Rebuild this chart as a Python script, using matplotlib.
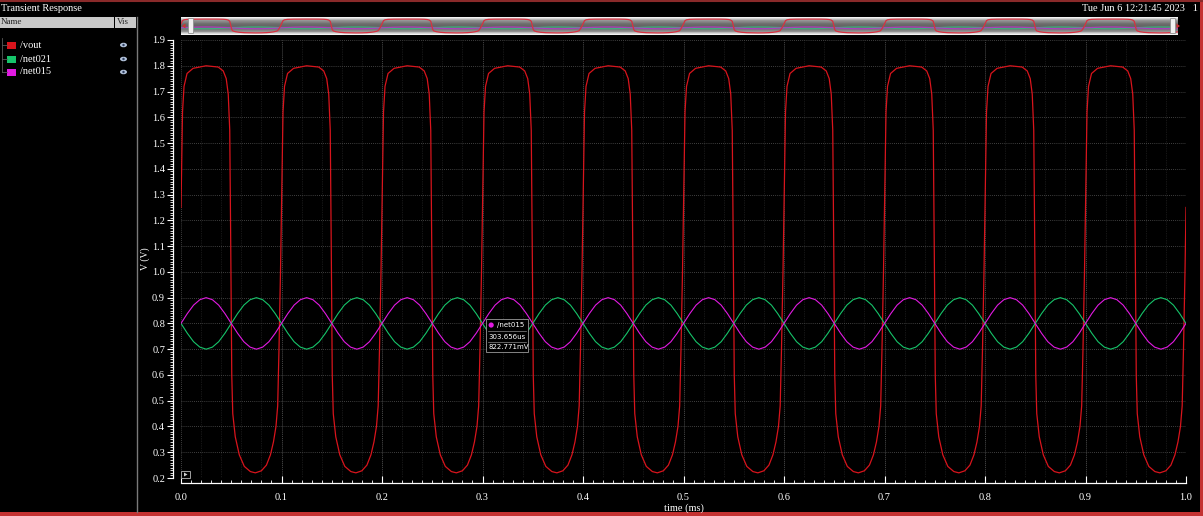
import matplotlib
matplotlib.use('Agg')
import matplotlib.pyplot as plt
import numpy as np
from matplotlib.patches import Rectangle, Ellipse, FancyBboxPatch, Polygon, Circle
from matplotlib.ticker import MultipleLocator, FormatStrFormatter

plt.rcParams['font.family'] = ['Liberation Serif', 'DejaVu Serif']

cycle_starts = [0.0, 0.1, 0.2, 0.3, 0.4, 0.5, 0.6, 0.7, 0.8, 0.9]   # ms

# /vout : one period, offsets in ms from the start of each period
vout_dt = [0.000, 0.0015, 0.003, 0.006, 0.012, 0.025, 0.037, 0.042, 0.045, 0.047,
           0.0485, 0.0495, 0.0505, 0.0515, 0.054, 0.058, 0.063, 0.069, 0.074, 0.080,
           0.085, 0.089, 0.092, 0.0945, 0.0962, 0.0975, 0.099]
vout_v = [1.25, 1.62, 1.72, 1.77, 1.79, 1.80, 1.795, 1.78, 1.75, 1.69,
          1.55, 1.10, 0.60, 0.45, 0.36, 0.29, 0.245, 0.225, 0.22, 0.228,
          0.25, 0.29, 0.34, 0.40, 0.48, 0.70, 1.00]
vout_end = 1.25

# /net015 and /net021 : one period sampled every 6.25 us
sine_dt = [0.0, 0.00625, 0.0125, 0.01875, 0.025, 0.03125, 0.0375, 0.04375,
           0.05, 0.05625, 0.0625, 0.06875, 0.075, 0.08125, 0.0875, 0.09375]
net015_v = [0.800, 0.838, 0.871, 0.892, 0.900, 0.892, 0.871, 0.838,
            0.800, 0.762, 0.729, 0.708, 0.700, 0.708, 0.729, 0.762]
net021_v = [0.800, 0.762, 0.729, 0.708, 0.700, 0.708, 0.729, 0.762,
            0.800, 0.838, 0.871, 0.892, 0.900, 0.892, 0.871, 0.838]
sine_end = 0.800

marker_t = 0.303656   # ms
marker_v = 0.822771   # V

names = ['/vout', '/net021', '/net015']
colors = ['#d8141c', '#16c46a', '#e21ae2']

# build the full traces
t_vout = np.concatenate([s + np.array(vout_dt) for s in cycle_starts] + [[1.0]])
y_vout = np.concatenate([np.tile(vout_v, len(cycle_starts)), [vout_end]])
t_sin = np.concatenate([s + np.array(sine_dt) for s in cycle_starts] + [[1.0]])
y_015 = np.concatenate([np.tile(net015_v, len(cycle_starts)), [sine_end]])
y_021 = np.concatenate([np.tile(net021_v, len(cycle_starts)), [sine_end]])

W, H = 1203, 516
fig = plt.figure(figsize=(W / 100, H / 100), dpi=100, facecolor='black')


def px_rect(x0, y0, x1, y1):
    return [x0 / W, 1 - y1 / H, (x1 - x0) / W, (y1 - y0) / H]


# main plot
ax = fig.add_axes(px_rect(181, 40, 1186, 478))
ax.set_facecolor('black')
ax.plot(t_vout, y_vout, color=colors[0], lw=0.9, zorder=3)
ax.plot(t_sin, y_021, color=colors[1], lw=0.8, zorder=4)
ax.plot(t_sin, y_015, color=colors[2], lw=0.8, zorder=5)
ax.set_xlim(0, 1.0)
ax.set_ylim(0.2, 1.9)

ax.xaxis.set_major_locator(MultipleLocator(0.1))
ax.xaxis.set_minor_locator(MultipleLocator(0.01))
ax.yaxis.set_major_locator(MultipleLocator(0.1))
ax.yaxis.set_minor_locator(MultipleLocator(0.01))
ax.xaxis.set_major_formatter(FormatStrFormatter('%.1f'))
ax.yaxis.set_major_formatter(FormatStrFormatter('%.1f'))

for s in ['top', 'right']:
    ax.spines[s].set_visible(False)
ax.spines['left'].set_position(('outward', 6))
ax.spines['bottom'].set_position(('outward', 3.6))
for s in ['left', 'bottom']:
    ax.spines[s].set_color('white')
    ax.spines[s].set_linewidth(0.9)

ax.tick_params(axis='y', which='major', direction='out', length=4, width=0.8,
               colors='white', labelsize=7.5, pad=1.5)
ax.tick_params(axis='y', which='minor', direction='out', length=2, width=0.6, colors='white')
ax.tick_params(axis='x', which='major', direction='in', length=5, width=0.8,
               colors='white', labelsize=7.5, pad=7)
ax.tick_params(axis='x', which='minor', direction='in', length=2.2, width=0.6, colors='white')

ax.grid(which='major', color='#555555', linestyle=(0, (1, 1.5)), linewidth=0.6, zorder=0)
for xg in np.arange(0.02, 1.0, 0.02):
    ax.axvline(xg, color='#2c2c2c', linestyle=(0, (1, 1.5)), linewidth=0.5, zorder=0)

# scroll bar with overview of the traces
sb = fig.add_axes(px_rect(181, 17, 1178, 35))
sb.set_xlim(0, (1178 - 181) / 1005)
sb.set_ylim(-0.02, 2.04)
grad = np.array([0.95, 0.72, 0.58, 0.50, 0.44, 0.40, 0.40, 0.43, 0.48, 0.56, 0.75, 0.95])[:, None]
sb.imshow(grad, cmap='gray', vmin=0, vmax=1, aspect='auto',
          extent=[0, (1178 - 181) / 1005, -0.02, 2.04], zorder=0)
sb.plot(t_sin, y_021, color='#30c080', lw=0.9, alpha=0.8, zorder=1)
sb.plot(t_sin, y_015, color='#c030d0', lw=0.9, alpha=0.8, zorder=1)
sb.plot(t_vout, y_vout, color='#d83040', lw=0.9, zorder=2)
sb.axis('off')

# overlay in pixel coordinates for the window chrome
ov = fig.add_axes([0, 0, 1, 1], zorder=10)
ov.set_xlim(0, W)
ov.set_ylim(H, 0)
ov.patch.set_alpha(0)
ov.axis('off')

ov.plot([0, W], [0.6, 0.6], color='#8a2a2a', lw=1.5)
ov.add_patch(Rectangle((0, 512), W, 4, color='#c43232', lw=0))
ov.add_patch(Rectangle((1200, 0), 3, H, color='#c43232', lw=0))
ov.text(1, 8.5, 'Transient Response', color='white', fontsize=7.5, va='center', ha='left')
ov.text(1198, 8.5, 'Tue Jun 6 12:21:45 2023   1', color='white', fontsize=7.5,
        va='center', ha='right')

# signal list panel
ov.add_patch(Rectangle((0, 17), 114, 11, color='#c9c9c9', lw=0))
ov.add_patch(Rectangle((115, 17), 21, 11, color='#c9c9c9', lw=0))
ov.text(0.5, 22.5, 'Name', color='#202020', fontsize=6.5, va='center')
ov.text(117, 22.5, 'Vis', color='#202020', fontsize=6.5, va='center')
ov.plot([136.5, 136.5], [17, 512], color='#7a7a7a', lw=1)
ov.plot([2, 2], [38, 72], color='#5a5a5a', lw=0.6)
rows = [45, 59, 72]
for y, name, c in zip(rows, names, colors):
    ov.plot([2, 7], [y, y], color='#5a5a5a', lw=0.6)
    ov.add_patch(Rectangle((7, y - 3.5), 9, 7, color=c, lw=0))
    ov.text(20, y, name, color='white', fontsize=7.5, va='center')
    ov.add_patch(Ellipse((123.5, y), 7, 4.5, color='#b4c4dc', lw=0))
    ov.add_patch(Circle((123.5, y), 1.2, color='#304060', lw=0))

# scroll bar handles
ov.add_patch(FancyBboxPatch((189, 19), 4, 14, boxstyle='round,pad=0.5',
                            fc='#f0f0f0', ec='#909090', lw=0.6))
ov.add_patch(FancyBboxPatch((1171, 19), 4, 14, boxstyle='round,pad=0.5',
                            fc='#f0f0f0', ec='#909090', lw=0.6))
ov.add_patch(Polygon([[182, 26], [185.5, 23.5], [185.5, 28.5]], color='#d03030', lw=0))
ov.add_patch(Polygon([[1180, 26], [1176.5, 23.5], [1176.5, 28.5]], color='#d03030', lw=0))

# axis titles
ov.text(683.5, 508, 'time (ms)', color='white', fontsize=7.5, ha='center', va='center')
ov.text(145, 259, 'V (V)', color='white', fontsize=7, ha='center', va='center', rotation=90)

# small play icon bottom left of plot
ov.add_patch(Rectangle((181, 471), 9, 7, fc='black', ec='#a0a0a0', lw=0.7))
ov.add_patch(Polygon([[184, 472.5], [184, 476.5], [187.5, 474.5]], color='#d0d0d0', lw=0))

# marker readout
fig.canvas.draw()
mx, my = ax.transData.transform((marker_t, marker_v))
my = H - my
ov.add_patch(Rectangle((mx, my + 1), 42, 33, fc='black', ec='#9a9a9a', lw=0.6))
ov.add_patch(Circle((mx + 5, my + 7.5), 2.6, color=colors[2], lw=0))
ov.text(mx + 11, my + 7.5, '/net015', color='white', fontsize=5, va='center',
        family=['DejaVu Sans'])
ov.plot([mx + 2, mx + 40], [my + 13.5, my + 13.5], color='#8a8a8a', lw=0.5)
ov.text(mx + 2.5, my + 19, '303.656us', color='white', fontsize=5, va='center',
        family=['DejaVu Sans'])
ov.plot([mx + 2, mx + 40], [my + 24.5, my + 24.5], color='#8a8a8a', lw=0.5)
ov.text(mx + 2.5, my + 29.5, '822.771mV', color='white', fontsize=5, va='center',
        family=['DejaVu Sans'])

fig.savefig('out.png', dpi=100, facecolor='black')
